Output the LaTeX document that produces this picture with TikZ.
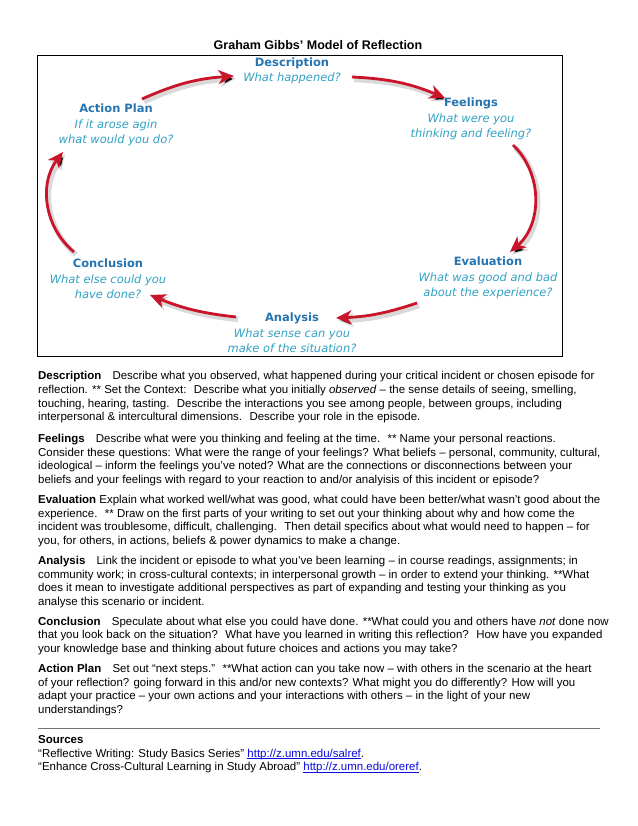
\documentclass[tikz,border=0pt]{standalone}
\usepackage{fontspec}
\setmainfont{Liberation Sans}
\newfontfamily\stagefont{DejaVu Sans}
\usepackage{xcolor}
\usetikzlibrary{arrows.meta,calc}

\definecolor{headblue}{RGB}{38,116,176}
\definecolor{askteal}{RGB}{50,162,196}
\definecolor{arrowred}{RGB}{202,20,42}
\definecolor{linkblue}{RGB}{10,10,225}

\newcommand{\stagehead}[1]{{\upshape\bfseries\color{headblue}#1}}
\newcommand{\linkurl}[1]{{\color{linkblue}\setbox0=\hbox{#1}\rlap{\rule[-1.5pt]{\wd0}{0.55pt}}\box0}}

\begin{document}
\begin{tikzpicture}[
    x=0.9592pt, y=0.9592pt,
    stage/.style={align=center, inner sep=1pt, text=askteal, font=\stagefont\itshape\fontsize{11}{15}\selectfont},
    cycle/.style={draw=arrowred, line width=2.7pt, -{Stealth[length=15pt, width=13.5pt, inset=4.5pt]},
        preaction={draw=black, draw opacity=0.15, line width=5pt, transform canvas={shift={(2pt,-2.5pt)}}}},
    para/.style={anchor=north west, align=left, inner sep=0pt, font=\fontsize{11}{13.05}\selectfont}
]
    \path[use as bounding box, fill=white] (0,0) rectangle (638,826);

    % Title and frame
    \node[font=\bfseries\fontsize{12}{14}\selectfont] (title) at (318,781) {Graham Gibbs’ Model of Reflection};
    \draw[line width=0.8pt] (37,470) rectangle (562,771);

    % Stages of the cycle
    \node[stage] (desc) at (292,755) {\stagehead{Description}\\What happened?};
    \node[stage] (feel) at (471,707) {\stagehead{Feelings}\\What were you\\thinking and feeling?};
    \node[stage] (eval) at (488,548) {\stagehead{Evaluation}\\What was good and bad\\about the experience?};
    \node[stage] (anal) at (292,493) {\stagehead{Analysis}\\What sense can you\\make of the situation?};
    \node[stage] (conc) at (108,547) {\stagehead{Conclusion}\\What else could you\\have done?};
    \node[stage] (act) at (116,701) {\stagehead{Action Plan}\\If it arose agin\\what would you do?};

    % Arrows
    \draw[cycle] ($(act)+(26,26)$) to[bend left=10] ($(desc)+(-58,-5)$);
    \draw[cycle] ($(desc)+(60,-6)$) to[bend left=10] ($(feel)+(-26,21)$);
    \draw[cycle] ($(feel)+(42,-26)$) to[bend left=48] ($(eval)+(22,26)$);
    \draw[cycle] ($(eval)+(-71,-25)$) to[bend left=8] ($(anal)+(44,15)$);
    \draw[cycle] ($(anal)+(-56,16)$) to[bend left=8] ($(conc)+(42,-16)$);
    \draw[cycle] ($(conc)+(-34,27)$) to[bend left=44] ($(act)+(-53,-27)$);

    % Text below the diagram
    \node[para] (pdesc) at (38,454.6) {\textbf{Description}\hspace{0.7em} Describe what you observed, what happened during your critical incident or chosen episode for\\
        reflection. ** Set the Context:~ Describe what you initially \textit{observed} -- the sense details of seeing, smelling,\\
        touching, hearing, tasting.~ Describe the interactions you see among people, between groups, including\\
        interpersonal \& intercultural dimensions.~ Describe your role in the episode.};
    \node[para] (pfeel) at (38,392.0) {\textbf{Feelings}\hspace{0.7em} Describe what were you thinking and feeling at the time.~ ** Name your personal reactions.\\
        Consider these questions: What were the range of your feelings? What beliefs -- personal, community, cultural,\\
        ideological -- inform the feelings you’ve noted? What are the connections or disconnections between your\\
        beliefs and your feelings with regard to your reaction to and/or analyisis of this incident or episode?};
    \node[para] (peval) at (38,331.0) {\textbf{Evaluation} Explain what worked well/what was good, what could have been better/what wasn’t good about the\\
        experience.~ ** Draw on the first parts of your writing to set out your thinking about why and how come the\\
        incident was troublesome, difficult, challenging.~ Then detail specifics about what would need to happen -- for\\
        you, for others, in actions, beliefs \& power dynamics to make a change.};
    \node[para] (panal) at (38,270.1) {\textbf{Analysis}\hspace{0.7em} Link the incident or episode to what you’ve been learning -- in course readings, assignments; in\\
        community work; in cross-cultural contexts; in interpersonal growth -- in order to extend your thinking. **What\\
        does it mean to investigate additional perspectives as part of expanding and testing your thinking as you\\
        analyse this scenario or incident.};
    \node[para] (pconc) at (38,209.2) {\textbf{Conclusion}\hspace{0.7em} Speculate about what else you could have done. **What could you and others have \textit{not} done now\\
        that you look back on the situation?~ What have you learned in writing this reflection?~ How have you expanded\\
        your knowledge base and thinking about future choices and actions you may take?};
    \node[para] (pact) at (38,161.8) {\textbf{Action Plan}\hspace{0.7em} Set out “next steps.”~ **What action can you take now -- with others in the scenario at the heart\\
        of your reflection? going forward in this and/or new contexts? What might you do differently? How will you\\
        adapt your practice -- your own actions and your interactions with others -- in the light of your new\\
        understandings?};

    % Sources
    \draw[black!55, line width=0.6pt] (38,97.3) -- (600,97.3);
    \node[para] (srcs) at (38,90.6) {\textbf{Sources}\\
        “Reflective Writing: Study Basics Series” \linkurl{http://z.umn.edu/salref}.\\
        “Enhance Cross-Cultural Learning in Study Abroad” \linkurl{http://z.umn.edu/oreref}.};
\end{tikzpicture}
\end{document}
